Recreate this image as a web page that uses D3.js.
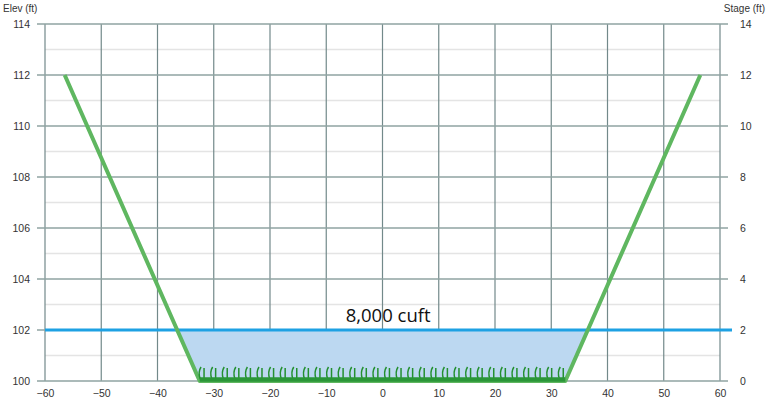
<!DOCTYPE html>
<html><head><meta charset="utf-8">
<script src="https://cdn.jsdelivr.net/npm/d3@7"></script>
<style>body{margin:0;background:#fff;}svg{display:block;font-family:"Liberation Sans",Arial,sans-serif;}</style>
</head><body>
<svg id="c" width="768" height="406"></svg>
<script>
// Data
const xTicks = [-60,-50,-40,-30,-20,-10,0,10,20,30,40,50,60];
const elevTicks = [100,102,104,106,108,110,112,114];
const stageTicks = [0,2,4,6,8,10,12,14];
const sectionX = [-56.5, -32.5, 32.5, 56.5];
const sectionElev = [112, 100, 100, 112];
const waterElev = 102;
const volumeLabel = "8,000 cuft";
const grassStep = 2.06;

const svg = d3.select("#c");
const x = d3.scaleLinear().domain([-60,60]).range([45,720]);
const y = d3.scaleLinear().domain([100,114]).range([381,24]);
const yS = d3.scaleLinear().domain([0,14]).range([381,24]);

// minor horizontal gridlines
const minor = d3.range(101,114,2);
svg.append("g").selectAll("line").data(minor).join("line")
  .attr("x1",x(-60)).attr("x2",x(60)).attr("y1",d=>y(d)).attr("y2",d=>y(d))
  .attr("stroke","#e4e4e4").attr("stroke-width",1.5);

// vertical gridlines
svg.append("g").selectAll("line").data(xTicks).join("line")
  .attr("x1",d=>x(d)).attr("x2",d=>x(d)).attr("y1",y(114)).attr("y2",y(100))
  .attr("stroke","#72898a").attr("stroke-width",1.2);

// major horizontal gridlines with ticks
svg.append("g").selectAll("line").data(elevTicks).join("line")
  .attr("x1",x(-60)-8).attr("x2",x(60)+8).attr("y1",d=>y(d)).attr("y2",d=>y(d))
  .attr("stroke","#8fa3a2").attr("stroke-width",1.5);

// axes labels
const lAxis = d3.axisLeft(y).tickValues(elevTicks).tickSize(0).tickPadding(15);
const gl = svg.append("g").attr("transform",`translate(${x(-60)},0)`).call(lAxis);
const rAxis = d3.axisRight(yS).tickValues(stageTicks).tickSize(0).tickPadding(20);
const gr = svg.append("g").attr("transform",`translate(${x(60)},0)`).call(rAxis);
const bAxis = d3.axisBottom(x).tickValues(xTicks).tickSize(0).tickPadding(9);
const gb = svg.append("g").attr("transform",`translate(0,${y(100)})`).call(bAxis);
[gl,gr,gb].forEach(g=>{
  g.select(".domain").remove();
  g.selectAll("text").attr("font-size",10.5).attr("fill","#333").attr("font-family","Liberation Sans, Arial, sans-serif");
});

svg.append("text").attr("x",3).attr("y",12).attr("font-size",10).attr("fill","#333").text("Elev (ft)");
svg.append("text").attr("x",765).attr("y",12).attr("text-anchor","end").attr("font-size",10).attr("fill","#333").text("Stage (ft)");

// water intersection with section
function crossX(x0,e0,x1,e1,e){ return x0 + (e-e0)*(x1-x0)/(e1-e0); }
const wl = crossX(sectionX[0],sectionElev[0],sectionX[1],sectionElev[1],waterElev);
const wr = crossX(sectionX[2],sectionElev[2],sectionX[3],sectionElev[3],waterElev);
const waterPoly = [[wl,waterElev],[sectionX[1],sectionElev[1]],[sectionX[2],sectionElev[2]],[wr,waterElev]];
svg.append("path").attr("d",d3.line().x(d=>x(d[0])).y(d=>y(d[1]))(waterPoly)+"Z")
  .attr("fill","#bcd8f1");

// blue water line
svg.append("line").attr("x1",x(-60)).attr("x2",x(60)+12).attr("y1",y(waterElev)).attr("y2",y(waterElev))
  .attr("stroke","#1ea1e3").attr("stroke-width",3);

// side slopes
const pts = sectionX.map((d,i)=>[d,sectionElev[i]]);
svg.append("path").attr("d",d3.line().x(d=>x(d[0])).y(d=>y(d[1]))(pts))
  .attr("fill","none").attr("stroke","#5fb760").attr("stroke-width",4).attr("stroke-linejoin","round");

// grass tufts
const grass = d3.range(sectionX[1]+0.1, sectionX[2]-0.3, grassStep);
svg.append("g").selectAll("path").data(grass).join("path")
  .attr("d",d=>{const px=x(d), py=y(100)-2; return `M${px},${py} Q${px-2.5},${py-7} ${px+0.8},${py-12} M${px+3.8},${py} L${px+3.8},${py-11}`;})
  .attr("fill","none").attr("stroke","#23902f").attr("stroke-width",1.5);

// bottom band
svg.append("line").attr("x1",x(sectionX[1])).attr("x2",x(sectionX[2])).attr("y1",y(100)-1.5).attr("y2",y(100)-1.5)
  .attr("stroke","#2a9638").attr("stroke-width",4.5);

// volume label
svg.append("text").attr("x",x(1)).attr("y",y(waterElev)-8).attr("text-anchor","middle")
  .attr("font-family","Open Sans, sans-serif").attr("font-size",18.5).attr("fill","#111").text(volumeLabel);
</script>
</body></html>
